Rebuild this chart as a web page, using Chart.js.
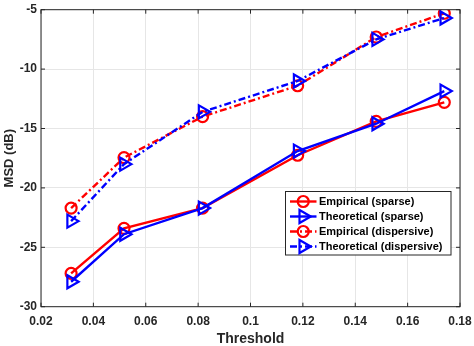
<!DOCTYPE html>
<html><head><meta charset="utf-8">
<script src="https://cdn.jsdelivr.net/npm/chart.js@4/dist/chart.umd.min.js"></script>
<style>html,body{margin:0;padding:0;background:#fff;overflow:hidden}#wrap{width:474px;height:346px;position:relative}</style>
</head><body><div id="wrap"><canvas id="c"></canvas></div>
<script>
const thresholds = [0.0315, 0.0517, 0.0817, 0.118, 0.148, 0.174];
const empiricalSparse = [-27.2, -23.4, -21.7, -17.25, -14.4, -12.8];
const theoreticalSparse = [-27.9, -23.9, -21.7, -16.9, -14.6, -11.85];
const empiricalDispersive = [-21.7, -17.45, -14.0, -11.4, -7.3, -5.3];
const theoreticalDispersive = [-22.8, -18.0, -13.6, -11.0, -7.5, -5.7];
const seriesLabels = ['Empirical (sparse)', 'Theoretical (sparse)', 'Empirical (dispersive)', 'Theoretical (dispersive)'];
const xTickValues = [0.02, 0.04, 0.06, 0.08, 0.1, 0.12, 0.14, 0.16, 0.18];
const yTickValues = [-30, -25, -20, -15, -10, -5];

const FONT = "'Liberation Sans', Arial, sans-serif";
const RED = '#ff0000', BLUE = '#0000ff';
const DASHDOT = [7, 3, 2, 3];

function pts(ys) { return thresholds.map((x, i) => ({x: x, y: ys[i]})); }
function circleDs(label, ys, dash) {
  return {label, data: pts(ys), borderColor: RED, backgroundColor: 'rgba(0,0,0,0)', borderWidth: 2.4,
    borderDash: dash, pointStyle: 'circle', pointRadius: 5.5, pointBorderWidth: 2.2,
    pointBorderColor: RED, pointBackgroundColor: 'rgba(0,0,0,0)', order: 1, tension: 0};
}
function triDs(label, ys, dash) {
  return {label, data: pts(ys), borderColor: BLUE, backgroundColor: 'rgba(0,0,0,0)', borderWidth: 2.4,
    borderDash: dash, pointStyle: 'triangle', pointRotation: 90, pointRadius: 7.5, pointBorderWidth: 2.2,
    pointBorderColor: BLUE, pointBackgroundColor: 'rgba(0,0,0,0)', order: 0, tension: 0};
}

const framePlugin = {
  id: 'frame',
  afterDraw(chart) {
    const ctx = chart.ctx, a = chart.chartArea;
    const xs = chart.scales.x, ys = chart.scales.y;
    ctx.save();
    ctx.strokeStyle = '#262626';
    ctx.lineWidth = 1;
    ctx.setLineDash([]);
    ctx.strokeRect(a.left, a.top, a.right - a.left, a.bottom - a.top);
    const tl = 4;
    ctx.beginPath();
    xTickValues.forEach(v => {
      const px = xs.getPixelForValue(v);
      ctx.moveTo(px, a.bottom); ctx.lineTo(px, a.bottom - tl);
      ctx.moveTo(px, a.top); ctx.lineTo(px, a.top + tl);
    });
    yTickValues.forEach(v => {
      const py = ys.getPixelForValue(v);
      ctx.moveTo(a.left, py); ctx.lineTo(a.left + tl, py);
      ctx.moveTo(a.right, py); ctx.lineTo(a.right - tl, py);
    });
    ctx.stroke();

    // legend
    const lx = a.right - 174.5, ly = 191.5, lw = 165.5, lh = 63.5;
    ctx.fillStyle = '#ffffff';
    ctx.fillRect(lx, ly, lw, lh);
    ctx.strokeStyle = '#262626';
    ctx.strokeRect(lx, ly, lw, lh);
    ctx.font = "bold 11px " + FONT;
    ctx.textBaseline = 'middle';
    ctx.textAlign = 'left';
    chart.data.datasets.forEach((ds, i) => {
      const y = ly + 10 + i * 15;
      const x0 = lx + 4.5, x1 = lx + 31;
      ctx.save();
      ctx.strokeStyle = ds.borderColor;
      ctx.lineWidth = ds.borderWidth;
      ctx.setLineDash(ds.borderDash || []);
      ctx.beginPath(); ctx.moveTo(x0, y); ctx.lineTo(x1, y); ctx.stroke();
      ctx.setLineDash([]);
      ctx.fillStyle = 'rgba(0,0,0,0)';
      ctx.lineWidth = ds.pointBorderWidth;
      Chart.helpers.drawPoint(ctx, {pointStyle: ds.pointStyle, rotation: ds.pointRotation || 0,
        radius: ds.pointRadius, borderWidth: ds.pointBorderWidth}, (x0 + x1) / 2, y);
      ctx.restore();
      ctx.fillStyle = '#000000';
      ctx.fillText(ds.label, lx + 33.5, y + 0.5);
    });
    ctx.restore();
  }
};

new Chart(document.getElementById('c'), {
  type: 'line',
  data: {
    datasets: [
      circleDs(seriesLabels[0], empiricalSparse, []),
      triDs(seriesLabels[1], theoreticalSparse, []),
      circleDs(seriesLabels[2], empiricalDispersive, DASHDOT),
      triDs(seriesLabels[3], theoreticalDispersive, DASHDOT)
    ]
  },
  options: {
    responsive: true,
    maintainAspectRatio: false,
    animation: false,
    layout: {padding: {top: 4.7, right: 14, bottom: 0, left: 0}},
    plugins: {legend: {display: false}, tooltip: {enabled: false}},
    elements: {line: {fill: false}},
    scales: {
      x: {
        type: 'linear', min: 0.02, max: 0.18,
        afterBuildTicks(s) { s.ticks = xTickValues.map(v => ({value: v})); },
        ticks: {
          callback: v => String(Number(v.toFixed(2))),
          font: {family: FONT, size: 12, weight: 'bold'}, color: '#262626', padding: 8,
          maxRotation: 0, autoSkip: false
        },
        grid: {color: '#e6e6e6', lineWidth: 1, drawTicks: false},
        border: {display: false},
        title: {display: true, text: 'Threshold', font: {family: FONT, size: 14, weight: 'bold'}, color: '#262626', padding: {top: 0, bottom: -1.5}},
        afterFit(s) { s.height = 39.3; s.paddingLeft = 0; s.paddingRight = 0; }
      },
      y: {
        type: 'linear', min: -30, max: -5,
        afterBuildTicks(s) { s.ticks = yTickValues.map(v => ({value: v})); },
        ticks: {
          callback: v => String(v),
          font: {family: FONT, size: 12, weight: 'bold'}, color: '#262626', padding: 4
        },
        grid: {color: '#e6e6e6', lineWidth: 1, drawTicks: false},
        border: {display: false},
        title: {display: true, text: 'MSD (dB)', font: {family: FONT, size: 13, weight: 'bold'}, color: '#262626', padding: {top: 1.5, bottom: 0}},
        afterFit(s) { s.width = 41; s.paddingTop = 0; s.paddingBottom = 0; }
      }
    }
  },
  plugins: [framePlugin]
});
</script>
</body></html>
